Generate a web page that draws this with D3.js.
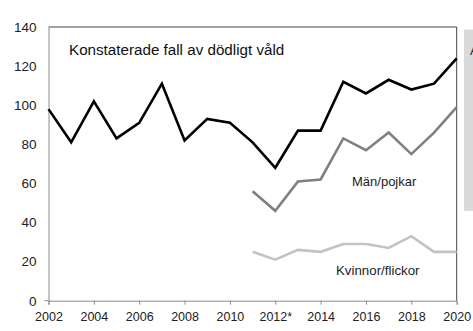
<!DOCTYPE html>
<html>
<head>
<meta charset="utf-8">
<script src="https://cdn.jsdelivr.net/npm/d3@7"></script>
<style>
  html, body { margin: 0; padding: 0; background: #fff; }
  svg { display: block; font-family: "Liberation Sans", Arial, sans-serif; }
</style>
</head>
<body>
<svg id="chart" width="473" height="331"></svg>
<script>
// Confirmed cases of lethal violence, per year
const years = [2002, 2003, 2004, 2005, 2006, 2007, 2008, 2009, 2010, 2011,
               2012, 2013, 2014, 2015, 2016, 2017, 2018, 2019, 2020];
const totalCases = [98, 81, 102, 83, 91, 111, 82, 93, 91, 81,
                    68, 87, 87, 112, 106, 113, 108, 111, 124];

// Split by sex, available from 2011
const splitYears = [2011, 2012, 2013, 2014, 2015, 2016, 2017, 2018, 2019, 2020];
const menBoys = [56, 46, 61, 62, 83, 77, 86, 75, 86, 99];
const womenGirls = [25, 21, 26, 25, 29, 29, 27, 33, 25, 25];

const xTickValues = [2002, 2004, 2006, 2008, 2010, 2012, 2014, 2016, 2018, 2020];
const xTickLabels = ["2002", "2004", "2006", "2008", "2010", "2012*", "2014", "2016", "2018", "2020"];
const yTickValues = [0, 20, 40, 60, 80, 100, 120, 140];

const svg = d3.select("#chart");
const plotLeft = 48.5, plotRight = 456.7, plotTop = 27, plotBottom = 300.7;

const x = d3.scaleLinear().domain([2002, 2020]).range([plotLeft, plotRight]);
const y = d3.scaleLinear().domain([0, 140]).range([plotBottom, plotTop]);

// Side panel peeking in at the right edge
svg.append("rect")
  .attr("x", 464).attr("y", 29.5).attr("width", 20).attr("height", 181.5)
  .attr("fill", "#dadada");
svg.append("text")
  .attr("x", 470).attr("y", 55)
  .attr("font-size", 13).attr("fill", "#222")
  .text("A");

// Frame: dark top and right edges
svg.append("path")
  .attr("d", `M${plotLeft},${plotTop}H${plotRight}V${plotBottom}`)
  .attr("fill", "none").attr("stroke", "#444").attr("stroke-width", 1);

// Y axis
const yAxis = svg.append("g")
  .attr("transform", `translate(${plotLeft},0)`)
  .call(d3.axisLeft(y).tickValues(yTickValues).tickSize(0).tickPadding(12));
yAxis.select(".domain").attr("stroke", "#8c8c8c");
yAxis.selectAll("text")
  .attr("font-size", 13.5).attr("fill", "#222")
  .attr("font-family", "Liberation Sans, Arial, sans-serif");

// short stub of the baseline to the left of the value axis
svg.append("line")
  .attr("x1", plotLeft - 4).attr("x2", plotLeft)
  .attr("y1", y(0)).attr("y2", y(0))
  .attr("stroke", "#8c8c8c");

// X axis
const xAxis = svg.append("g")
  .attr("transform", `translate(0,${plotBottom})`)
  .call(d3.axisBottom(x).tickValues(xTickValues)
    .tickFormat((d, i) => xTickLabels[i]).tickSize(4).tickPadding(7));
xAxis.select(".domain").attr("stroke", "#8c8c8c");
xAxis.selectAll(".tick line").attr("stroke", "#8c8c8c");
xAxis.selectAll("text")
  .attr("font-size", 12.5).attr("fill", "#222")
  .attr("font-family", "Liberation Sans, Arial, sans-serif");

const line = d3.line().x(d => x(d[0])).y(d => y(d[1]));

svg.append("path")
  .datum(d3.zip(splitYears, womenGirls))
  .attr("d", line)
  .attr("fill", "none").attr("stroke", "#c3c3c3").attr("stroke-width", 2.6);

svg.append("path")
  .datum(d3.zip(splitYears, menBoys))
  .attr("d", line)
  .attr("fill", "none").attr("stroke", "#808080").attr("stroke-width", 2.6);

svg.append("path")
  .datum(d3.zip(years, totalCases))
  .attr("d", line)
  .attr("fill", "none").attr("stroke", "#000").attr("stroke-width", 2.6)
  .attr("stroke-linejoin", "miter");

// Labels
svg.append("text")
  .attr("x", 69).attr("y", 54.5)
  .attr("font-size", 15.2).attr("fill", "#111")
  .text("Konstaterade fall av dödligt våld");

svg.append("text")
  .attr("x", 352).attr("y", 186)
  .attr("font-size", 13).attr("fill", "#222")
  .text("Män/pojkar");

svg.append("text")
  .attr("x", 336).attr("y", 275)
  .attr("font-size", 13.3).attr("fill", "#222")
  .text("Kvinnor/flickor");
</script>
</body>
</html>
